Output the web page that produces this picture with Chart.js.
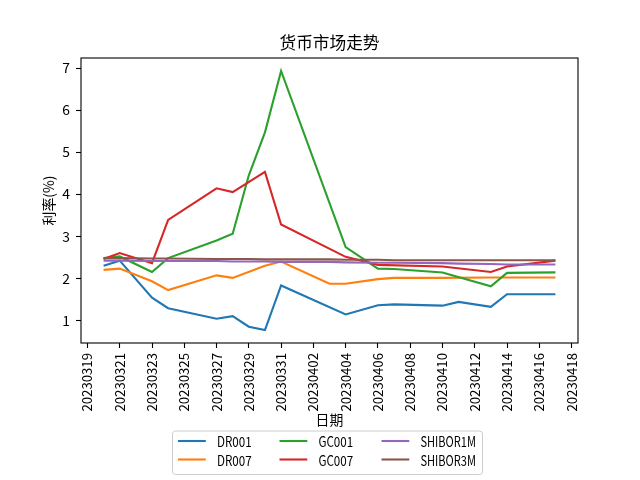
<!DOCTYPE html>
<html><head><meta charset="utf-8">
<script src="https://cdn.jsdelivr.net/npm/chart.js@4/dist/chart.umd.min.js"></script>
<style>html,body{margin:0;padding:0;background:#fff}canvas{display:block}</style>
</head><body>
<canvas id="c" width="640" height="480"></canvas>
<script>
// ---- data ----
const dates = ['20230320','20230321','20230323','20230324','20230327','20230328','20230329','20230330','20230331','20230403','20230404','20230406','20230407','20230410','20230411','20230413','20230414','20230417'];
const xTickDates = ['20230319','20230321','20230323','20230325','20230327','20230329','20230331','20230402','20230404','20230406','20230408','20230410','20230412','20230414','20230416','20230418'];
const yTicks = [1,2,3,4,5,6,7];
const seriesNames = ['DR001','DR007','GC001','GC007','SHIBOR1M','SHIBOR3M'];
const DR001    = [2.30,2.42,1.54,1.29,1.04,1.10,0.85,0.77,1.83,null,1.14,1.36,1.38,1.35,1.44,1.32,1.62,1.62];
const DR007    = [2.20,2.23,1.93,1.72,2.07,2.01,null,2.30,2.40,1.87,1.87,1.98,2.01,2.01,null,2.02,2.02,2.02];
const GC001    = [2.48,2.52,2.15,2.48,2.90,3.06,4.45,5.47,6.93,null,2.74,2.23,2.22,2.14,null,1.81,2.13,2.14];
const GC007    = [2.46,2.60,2.36,3.39,4.14,4.05,null,4.53,3.28,null,2.51,2.32,null,2.28,null,2.15,2.28,2.42];
const SHIBOR1M = [2.42,2.42,2.41,2.41,2.41,2.40,2.40,2.40,2.39,2.39,2.38,2.37,2.37,2.36,2.35,2.34,2.33,2.33];
const SHIBOR3M = [2.48,2.48,2.47,2.47,2.46,2.46,2.46,2.45,2.45,2.45,2.44,2.44,2.43,2.43,2.43,2.43,2.43,2.43];
const titleText = '货币市场走势';
const xTitle = '日期';
const yTitle = '利率(%)';
const colors = ['#1f77b4','#ff7f0e','#2ca02c','#d62728','#9467bd','#8c564b'];

// ---- helpers ----
const base = Date.UTC(2023,2,19);
function dayOf(s){ return (Date.UTC(+s.slice(0,4), +s.slice(4,6)-1, +s.slice(6,8)) - base) / 86400000; }
const tickLabelMap = {};
xTickDates.forEach(d => tickLabelMap[dayOf(d)] = d);

const allSeries = [DR001, DR007, GC001, GC007, SHIBOR1M, SHIBOR3M];
const xs = dates.map(dayOf);
const xMinD = Math.min(...xs), xMaxD = Math.max(...xs);
const allVals = allSeries.flat().filter(v => v !== null);
const yMinD = Math.min(...allVals), yMaxD = Math.max(...allVals);
const xr = xMaxD - xMinD, yr = yMaxD - yMinD;

const FONT = "'Noto Sans CJK SC', 'DejaVu Sans', sans-serif";
Chart.defaults.font.family = FONT;
Chart.defaults.color = '#000';

const datasets = allSeries.map((arr, i) => ({
  label: seriesNames[i],
  data: dates.map((d, j) => ({x: dayOf(d), y: arr[j]})),
  borderColor: colors[i],
  backgroundColor: colors[i],
  borderWidth: 2.1,
  pointRadius: 0,
  tension: 0,
  spanGaps: true,
  order: allSeries.length - 1 - i
}));

const framePlugin = {
  id: 'frameLegend',
  afterDraw(chart) {
    const {ctx, chartArea: a} = chart;
    ctx.save();
    ctx.strokeStyle = '#000';
    ctx.lineWidth = 1.1;
    ctx.strokeRect(a.left, a.top, a.right - a.left, a.bottom - a.top);

    // title centred over the axes
    ctx.fillStyle = '#000';
    ctx.font = '16.7px ' + FONT;
    ctx.textAlign = 'center';
    ctx.textBaseline = 'middle';
    ctx.fillText(titleText, (a.left + a.right) / 2, 43);

    // legend (matplotlib style, column-major, 3 columns)
    const fs = 13.9;
    const bx = 172.5, by = 431, bw = 310, bh = 43.5;
    ctx.beginPath();
    ctx.roundRect(bx, by, bw, bh, 3);
    ctx.fillStyle = 'rgba(255,255,255,0.8)';
    ctx.fill();
    ctx.strokeStyle = '#cccccc';
    ctx.lineWidth = 1;
    ctx.stroke();
    const colX = [178, 279.5, 381.5];
    const rowY = [441, 459.5];
    ctx.font = fs + 'px ' + FONT;
    ctx.textBaseline = 'middle';
    ctx.textAlign = 'left';
    chart.data.datasets.forEach((ds, i) => {
      const c = Math.floor(i / 2), r = i % 2;
      const x = colX[c], y = rowY[r];
      ctx.beginPath();
      ctx.moveTo(x, y); ctx.lineTo(x + 27.8, y);
      ctx.strokeStyle = ds.borderColor;
      ctx.lineWidth = 2.1;
      ctx.stroke();
      ctx.fillStyle = '#000';
      ctx.fillText(ds.label, x + 38.9, y + 1, ds.label.length * 0.5 * fs);
    });
    ctx.restore();
  }
};

new Chart(document.getElementById('c'), {
  type: 'line',
  data: {datasets},
  options: {
    responsive: false,
    animation: false,
    devicePixelRatio: 1,
    layout: {padding: {left: 0, right: 62, top: 58, bottom: 52}},
    plugins: {
      legend: {display: false},
      tooltip: {enabled: false},
      title: {display: false}
    },
    scales: {
      x: {
        type: 'linear',
        min: xMinD - 0.05 * xr,
        max: xMaxD + 0.05 * xr,
        afterBuildTicks: s => { s.ticks = xTickDates.map(d => ({value: dayOf(d)})); },
        afterFit: s => { s.height = 85; },
        ticks: {
          autoSkip: false, minRotation: 90, maxRotation: 90, padding: 5,
          font: {size: 13.2, family: FONT}, color: '#000',
          callback: v => tickLabelMap[v] ?? ''
        },
        grid: {drawOnChartArea: false, drawTicks: true, tickLength: 5, tickColor: '#000', tickWidth: 1.1},
        border: {display: false},
        title: {display: true, text: xTitle, color: '#000', font: {size: 13.9, family: FONT}, padding: {top: 0, bottom: 0}}
      },
      y: {
        type: 'linear',
        min: yMinD - 0.05 * yr,
        max: yMaxD + 0.05 * yr,
        afterBuildTicks: s => { s.ticks = yTicks.map(v => ({value: v})); },
        afterFit: s => { s.width = 81; },
        ticks: {padding: 6, font: {size: 13.9, family: FONT}, color: '#000', callback: v => String(v)},
        grid: {drawOnChartArea: false, drawTicks: true, tickLength: 5, tickColor: '#000', tickWidth: 1.1},
        border: {display: false},
        title: {display: true, text: yTitle, color: '#000', font: {size: 13.9, family: FONT}, padding: {top: 40, bottom: 0}}
      }
    }
  },
  plugins: [framePlugin]
});
</script>
</body></html>
